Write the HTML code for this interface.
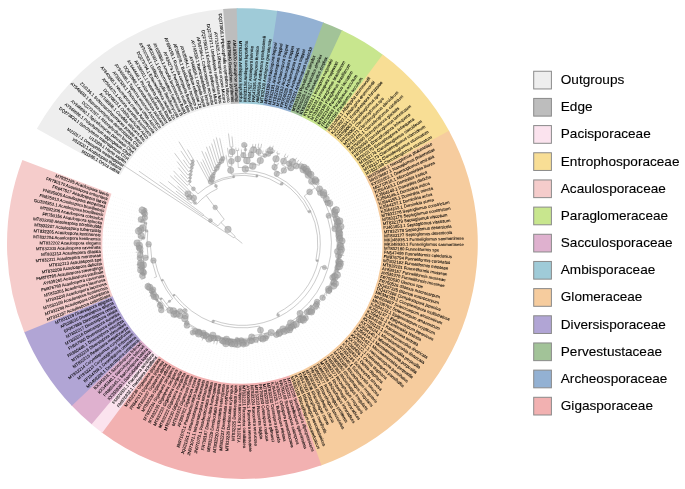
<!DOCTYPE html>
<html><head><meta charset="utf-8"><title>Phylogenetic tree</title>
<style>html,body{margin:0;padding:0;background:#fff}svg{display:block}</style></head>
<body>
<svg width="685" height="489" viewBox="0 0 685 489" font-family="'Liberation Sans', Arial, sans-serif">
<rect width="685" height="489" fill="#fff"/>
<path d="M36.86 128.85A235.4 235.4 0 0 1 224.16 8.91L231.55 103.92A140.1 140.1 0 0 0 120.07 175.31Z" fill="#eeeeee"/>
<path d="M223.14 8.99A235.4 235.4 0 0 1 237.71 8.25L239.61 103.53A140.1 140.1 0 0 0 230.94 103.97Z" fill="#bdbdbd"/>
<path d="M236.68 8.27A235.4 235.4 0 0 1 278.27 10.95L263.75 105.14A140.1 140.1 0 0 0 239 103.54Z" fill="#9fcbd8"/>
<path d="M277.25 10.79A235.4 235.4 0 0 1 324.15 22.85L291.05 112.22A140.1 140.1 0 0 0 263.14 105.04Z" fill="#93b1d3"/>
<path d="M323.18 22.5A235.4 235.4 0 0 1 342.9 30.73L302.21 116.91A140.1 140.1 0 0 0 290.48 112.01Z" fill="#a2c398"/>
<path d="M341.97 30.3A235.4 235.4 0 0 1 383.51 55.18L326.38 131.46A140.1 140.1 0 0 0 301.66 116.65Z" fill="#c8e68e"/>
<path d="M382.69 54.57A235.4 235.4 0 0 1 449.46 131.62L365.63 176.95A140.1 140.1 0 0 0 325.89 131.1Z" fill="#f8de95"/>
<path d="M448.97 130.72A235.4 235.4 0 0 1 320.39 465.7L288.82 375.79A140.1 140.1 0 0 0 365.34 176.42Z" fill="#f6cc9e"/>
<path d="M321.36 465.36A235.4 235.4 0 0 1 101.45 432.13L158.51 355.81A140.1 140.1 0 0 0 289.39 375.58Z" fill="#f2b1b1"/>
<path d="M102.27 432.75A235.4 235.4 0 0 1 90.82 423.7L152.19 350.79A140.1 140.1 0 0 0 159 356.17Z" fill="#fbe3ee"/>
<path d="M91.61 424.36A235.4 235.4 0 0 1 71.11 405.08L140.46 339.7A140.1 140.1 0 0 0 152.66 351.18Z" fill="#dfb1cf"/>
<path d="M71.82 405.82A235.4 235.4 0 0 1 23.91 331.21L112.36 295.74A140.1 140.1 0 0 0 140.88 340.15Z" fill="#b1a5d5"/>
<path d="M24.29 332.16A235.4 235.4 0 0 1 22.38 159.91L111.45 193.79A140.1 140.1 0 0 0 112.59 296.31Z" fill="#f5cccb"/>
<g font-size="4.25" fill="#000" stroke="#000" stroke-width=".07">
<text transform="translate(119.55 172.67) rotate(390)" text-anchor="end" dy="1.47">M11585.1 Oryza sativa</text>
<text transform="translate(121.65 169.17) rotate(391.65)" text-anchor="end" dy="1.47">X52320.1 Arabidopsis thaliana</text>
<text transform="translate(123.84 165.72) rotate(393.3)" text-anchor="end" dy="1.47">M21017.1 Drosophila melanogaster</text>
<text transform="translate(126.14 162.33) rotate(394.95)" text-anchor="end" dy="1.47">U13369.1 Homo sapien</text>
<text transform="translate(128.53 159.02) rotate(396.6)" text-anchor="end" dy="1.47">DQ273820.1 Synchytrium macrosporum Chyt</text>
<text transform="translate(131.01 155.77) rotate(398.25)" text-anchor="end" dy="1.47">AY546686.1 Polychytrium aggregatum Chytr</text>
<text transform="translate(133.59 152.6) rotate(399.91)" text-anchor="end" dy="1.47">AY546692.1 Spizellomyces punctatus Chyt</text>
<text transform="translate(136.25 149.5) rotate(401.56)" text-anchor="end" dy="1.47">DQ273787.1 Rhizophydium brooksian</text>
<text transform="translate(139.01 146.48) rotate(403.21)" text-anchor="end" dy="1.47">AY546693.1 Batrachochytrium dendrobatidis Chy</text>
<text transform="translate(141.85 143.54) rotate(404.86)" text-anchor="end" dy="1.47">Z19136.1 Schizosaccharomyces pombe Asco</text>
<text transform="translate(144.77 140.69) rotate(406.51)" text-anchor="end" dy="1.47">AY198398.1 Candida albicans Asc</text>
<text transform="translate(147.78 137.92) rotate(408.16)" text-anchor="end" dy="1.47">DQ470973.1 Orbilia auricolor Asco</text>
<text transform="translate(150.86 135.24) rotate(409.81)" text-anchor="end" dy="1.47">AY544670.1 Aleuria aurantia Ascomyco</text>
<text transform="translate(154.02 132.65) rotate(411.46)" text-anchor="end" dy="1.47">AY640965.1 Neurospora crassa Ascomycota</text>
<text transform="translate(157.26 130.15) rotate(413.11)" text-anchor="end" dy="1.47">AY552524.1 Trichoderma viride Ascom</text>
<text transform="translate(160.56 127.74) rotate(414.76)" text-anchor="end" dy="1.47">AY546695.1 Taphrina wiesneri Ascomyco</text>
<text transform="translate(163.93 125.43) rotate(416.42)" text-anchor="end" dy="1.47">DQ470949.1 Aureobasidium pullulans</text>
<text transform="translate(167.37 123.22) rotate(418.07)" text-anchor="end" dy="1.47">AY544648.1 Peziza vesiculosa Ascomy</text>
<text transform="translate(170.87 121.11) rotate(419.72)" text-anchor="end" dy="1.47">AF396011.1 Puccinia graminis Basidi</text>
<text transform="translate(174.43 119.1) rotate(421.37)" text-anchor="end" dy="1.47">DQ273794.1 Entomophthora muscae Zo</text>
<text transform="translate(178.04 117.19) rotate(423.02)" text-anchor="end" dy="1.47">AY700093.1 Ustilago maydis Basidiomycota</text>
<text transform="translate(181.71 115.39) rotate(424.67)" text-anchor="end" dy="1.47">AY631901.1 Endocronartium harknessii B</text>
<text transform="translate(185.43 113.69) rotate(426.32)" text-anchor="end" dy="1.47">AY639880.1 Amanita brunnescens Basid</text>
<text transform="translate(189.2 112.11) rotate(427.97)" text-anchor="end" dy="1.47">AY634279.1 Peniophora nuda Bas</text>
<text transform="translate(193.01 110.63) rotate(429.62)" text-anchor="end" dy="1.47">AY684155.1 Russula compacta Basidiom</text>
<text transform="translate(196.86 109.26) rotate(431.27)" text-anchor="end" dy="1.47">AF286878.1 Basidiobolus ranarum Z</text>
<text transform="translate(200.75 108) rotate(432.92)" text-anchor="end" dy="1.47">AY635854.1 Smittium culisetae Zo</text>
<text transform="translate(204.67 106.86) rotate(434.58)" text-anchor="end" dy="1.47">AY546694.1 Orphella haysii</text>
<text transform="translate(208.63 105.83) rotate(436.23)" text-anchor="end" dy="1.47">AY745339.1 Ramicandelaber brevis</text>
<text transform="translate(212.61 104.91) rotate(437.88)" text-anchor="end" dy="1.47">AF587864.1 Cokeromyces recurvatu</text>
<text transform="translate(216.62 104.11) rotate(439.53)" text-anchor="end" dy="1.47">DQ273811.1 Endogone pisiformis Muco</text>
<text transform="translate(220.65 103.43) rotate(441.18)" text-anchor="end" dy="1.47">DQ273797.1 Umbelopsis ramanniana Muc</text>
<text transform="translate(224.7 102.86) rotate(442.83)" text-anchor="end" dy="1.47">AY713626.1 Rhizopus oryzae Mucoro</text>
<text transform="translate(228.76 102.41) rotate(444.48)" text-anchor="end" dy="1.47">DQ273806.1 Piptocephalis corymbifera Mucoro</text>
<text transform="translate(232.83 102.07) rotate(446.13)" text-anchor="end" dy="1.47">FM876840 Geosiphon pyriformis</text>
<text transform="translate(236.91 101.86) rotate(447.78)" text-anchor="end" dy="1.47">AM183920 Geosiphon pyriformis</text>
<text transform="translate(241 101.76) rotate(449.43)" text-anchor="end" dy="1.47">MT832108 Ambispora leptoticha</text>
<text transform="translate(245.09 101.78) rotate(271.08)" dy="1.47">MT832106 Ambispora leptoticha</text>
<text transform="translate(249.17 101.91) rotate(272.74)" dy="1.47">FN547527 Ambispora fennica</text>
<text transform="translate(253.25 102.17) rotate(274.39)" dy="1.47">FN547535 Ambispora fennica</text>
<text transform="translate(257.32 102.54) rotate(276.04)" dy="1.47">AM268196 Ambispora gerdemannii</text>
<text transform="translate(261.38 103.03) rotate(277.69)" dy="1.47">MT832109 Ambispora granatensis</text>
<text transform="translate(265.42 103.63) rotate(279.34)" dy="1.47">MT832190 Archaeospora trappei</text>
<text transform="translate(269.44 104.35) rotate(280.99)" dy="1.47">MT832191 Archaeospora trappei</text>
<text transform="translate(273.44 105.19) rotate(282.64)" dy="1.47">MT832192 Archaeospora trappei</text>
<text transform="translate(277.42 106.14) rotate(284.29)" dy="1.47">MT832193 Archaeospora trappei</text>
<text transform="translate(281.36 107.21) rotate(285.94)" dy="1.47">FR750035 Archaeospora trappei</text>
<text transform="translate(285.28 108.39) rotate(287.59)" dy="1.47">MT832189 Archaeospora trappei</text>
<text transform="translate(289.16 109.68) rotate(289.25)" dy="1.47">FR750021 Archaeospora schenckii</text>
<text transform="translate(292.99 111.08) rotate(290.9)" dy="1.47">MT832194 Pervetustus simplex</text>
<text transform="translate(296.79 112.59) rotate(292.55)" dy="1.47">KY630229.1 Pervetustus simplex</text>
<text transform="translate(300.54 114.21) rotate(294.2)" dy="1.47">KY630228.1 Pervetustus simplex</text>
<text transform="translate(304.25 115.94) rotate(295.85)" dy="1.47">KY630231.1 Innospora majewskii</text>
<text transform="translate(307.9 117.78) rotate(297.5)" dy="1.47">KY630232.1 Innospora majewskii</text>
<text transform="translate(311.5 119.72) rotate(299.15)" dy="1.47">MT832198 Paraglomus brasilianum</text>
<text transform="translate(315.04 121.76) rotate(300.8)" dy="1.47">MT832196 Paraglomus brasilianum</text>
<text transform="translate(318.52 123.9) rotate(302.45)" dy="1.47">MT832197 Paraglomus laccatum</text>
<text transform="translate(321.93 126.14) rotate(304.1)" dy="1.47">FR750083 Paraglomus occultum</text>
<text transform="translate(325.29 128.49) rotate(305.75)" dy="1.47">MT832195 Paraglomus occultum</text>
<text transform="translate(328.57 130.92) rotate(307.41)" dy="1.47">KJ210826.1 Albahypha drummondii</text>
<text transform="translate(331.78 133.45) rotate(309.06)" dy="1.47">KJ210827.1 Albahypha drummondii</text>
<text transform="translate(334.91 136.07) rotate(310.71)" dy="1.47">KJ210824.1 Entrophospora furrazolae</text>
<text transform="translate(337.97 138.78) rotate(312.36)" dy="1.47">FR750063 Claroideoglomus spe</text>
<text transform="translate(340.95 141.58) rotate(314.01)" dy="1.47">FR750062 Claroideoglomus spe</text>
<text transform="translate(343.85 144.46) rotate(315.66)" dy="1.47">MT832171 Claroideoglomus claroideum</text>
<text transform="translate(346.67 147.42) rotate(317.31)" dy="1.47">KP191475.1 Claroideoglomus candidum</text>
<text transform="translate(349.39 150.47) rotate(318.96)" dy="1.47">FR750060 Entrophospora glacialis</text>
<text transform="translate(352.03 153.59) rotate(320.61)" dy="1.47">FR750059 Claroideoglomus lamellosum</text>
<text transform="translate(354.58 156.78) rotate(322.26)" dy="1.47">FR750058 Entrophospora infrequens</text>
<text transform="translate(357.04 160.05) rotate(323.92)" dy="1.47">MT832170 Entrophospora infrequens</text>
<text transform="translate(359.39 163.39) rotate(325.57)" dy="1.47">MT832174 Claroideoglomus claroideum</text>
<text transform="translate(361.66 166.79) rotate(327.22)" dy="1.47">MT832173 Claroideoglomus claroideum</text>
<text transform="translate(363.82 170.26) rotate(328.87)" dy="1.47">MT832172 Claroideoglomus etunicatum</text>
<text transform="translate(365.88 173.79) rotate(330.52)" dy="1.47">MT832169 Claroideoglomus etunicatum</text>
<text transform="translate(367.84 177.38) rotate(332.17)" dy="1.47">MH378688.1 Nanoglomus plukenetiae</text>
<text transform="translate(369.7 181.02) rotate(333.82)" dy="1.47">MH378687.1 Nanoglomus plukenetiae</text>
<text transform="translate(371.45 184.71) rotate(335.47)" dy="1.47">KY555052.1 Orientoglomus emiratia</text>
<text transform="translate(373.09 188.45) rotate(337.12)" dy="1.47">MG710518.1 Microdominikia litorea</text>
<text transform="translate(374.63 192.24) rotate(338.77)" dy="1.47">KJ564163.1 Dominikia iranica</text>
<text transform="translate(376.05 196.07) rotate(340.42)" dy="1.47">KJ564148.1 Dominikia disticha</text>
<text transform="translate(377.36 199.94) rotate(342.08)" dy="1.47">KJ564146.1 Dominikia indica</text>
<text transform="translate(378.57 203.85) rotate(343.73)" dy="1.47">KJ564155.1 Dominikia minuta</text>
<text transform="translate(379.66 207.79) rotate(345.38)" dy="1.47">KJ564157.1 Dominikia achra</text>
<text transform="translate(380.63 211.76) rotate(347.03)" dy="1.47">KJ564153.1 Dominikia aurea</text>
<text transform="translate(381.49 215.75) rotate(348.68)" dy="1.47">MT832176 Septoglomus constrictum</text>
<text transform="translate(382.23 219.77) rotate(350.33)" dy="1.47">MT832175 Septoglomus constrictum</text>
<text transform="translate(382.86 223.81) rotate(351.98)" dy="1.47">MT832179 Septoglomus viscosum</text>
<text transform="translate(383.37 227.87) rotate(353.63)" dy="1.47">FJ461853.1 Septoglomus viscosum</text>
<text transform="translate(383.77 231.94) rotate(355.28)" dy="1.47">MT832178 Septoglomus deserticola</text>
<text transform="translate(384.05 236.01) rotate(356.93)" dy="1.47">MT832177 Septoglomus deserticola</text>
<text transform="translate(384.21 240.1) rotate(358.58)" dy="1.47">MK348935.1 Funneliglomus sanmartinese</text>
<text transform="translate(384.25 244.18) rotate(0.24)" dy="1.47">MK348930.1 Funneliglomus sanmartinese</text>
<text transform="translate(384.17 248.27) rotate(1.89)" dy="1.47">MT832180 Funneliformis spe</text>
<text transform="translate(383.98 252.35) rotate(3.54)" dy="1.47">FN547499 Funneliformis caledonius</text>
<text transform="translate(383.67 256.43) rotate(5.19)" dy="1.47">FM876794 Funneliformis coronatus</text>
<text transform="translate(383.24 260.49) rotate(6.84)" dy="1.47">MT832182 Funneliformis mosseae</text>
<text transform="translate(382.7 264.54) rotate(8.49)" dy="1.47">MT832181 Funneliformis mosseae</text>
<text transform="translate(382.03 268.58) rotate(10.14)" dy="1.47">AY639157 Funneliformis mosseae</text>
<text transform="translate(381.26 272.59) rotate(11.79)" dy="1.47">AY639270 Funneliformis mosseae</text>
<text transform="translate(380.36 276.58) rotate(13.44)" dy="1.47">FR750530 Glomus spe</text>
<text transform="translate(379.36 280.54) rotate(15.09)" dy="1.47">FR750526 Glomus macrocarpum</text>
<text transform="translate(378.23 284.47) rotate(16.75)" dy="1.47">DQ437325 Glomus macrocarpum</text>
<text transform="translate(377 288.37) rotate(18.4)" dy="1.47">DQ437298 Complexispora japonica</text>
<text transform="translate(375.66 292.23) rotate(20.05)" dy="1.47">MK036783.1 Complexispora multistratosa</text>
<text transform="translate(374.2 296.04) rotate(21.7)" dy="1.47">MH560607 Sclerocarpum amazonicum</text>
<text transform="translate(372.63 299.82) rotate(23.35)" dy="1.47">MK036782 Sclerocarpum amazonicum</text>
<text transform="translate(370.96 303.55) rotate(25)" dy="1.47">KJ564133.1 Epigeocarpum crypticum</text>
<text transform="translate(369.18 307.23) rotate(26.65)" dy="1.47">KJ564137.1 Epigeocarpum japonicum</text>
<text transform="translate(367.29 310.85) rotate(28.3)" dy="1.47">KJ564131.1 Kamienskia bistrata</text>
<text transform="translate(365.3 314.42) rotate(29.95)" dy="1.47">KJ564145.1 Kamienskia bistrata</text>
<text transform="translate(363.21 317.94) rotate(31.6)" dy="1.47">KX758123.1 Microkamienskia divaricata</text>
<text transform="translate(361.02 321.39) rotate(33.25)" dy="1.47">KX758124.1 Microkamienskia divaricata</text>
<text transform="translate(358.73 324.77) rotate(34.91)" dy="1.47">KJ564140.1 Microkamienskia perpusilla</text>
<text transform="translate(356.34 328.09) rotate(36.56)" dy="1.47">KJ564141.1 Microkamienskia perpusilla</text>
<text transform="translate(353.86 331.34) rotate(38.21)" dy="1.47">KJ564142.1 Microkamienskia perpusilla</text>
<text transform="translate(351.29 334.51) rotate(39.86)" dy="1.47">KX758121.1 Halonatospora pansihalos</text>
<text transform="translate(348.62 337.61) rotate(41.51)" dy="1.47">KX758122.1 Halonatospora pansihalos</text>
<text transform="translate(345.87 340.63) rotate(43.16)" dy="1.47">KY362436.1 Oehlia diaphana</text>
<text transform="translate(343.03 343.57) rotate(44.81)" dy="1.47">KY362437.1 Oehlia diaphana</text>
<text transform="translate(340.11 346.43) rotate(46.46)" dy="1.47">MT832185 Sclerocystis sinuosa</text>
<text transform="translate(337.11 349.2) rotate(48.11)" dy="1.47">FJ461846.1 Sclerocystis sinuosa</text>
<text transform="translate(334.03 351.89) rotate(49.76)" dy="1.47">MT832186 Rhizophagus irregularis</text>
<text transform="translate(330.87 354.48) rotate(51.42)" dy="1.47">FM865550 Rhizophagus irregularis</text>
<text transform="translate(327.64 356.98) rotate(53.07)" dy="1.47">FM992388 Rhizophagus irregularis</text>
<text transform="translate(324.33 359.39) rotate(54.72)" dy="1.47">FM992377 Rhizophagus irregularis</text>
<text transform="translate(320.96 361.71) rotate(56.37)" dy="1.47">MT832187 Rhizophagus intraradices</text>
<text transform="translate(317.53 363.92) rotate(58.02)" dy="1.47">FM865559 Rhizophagus intraradices</text>
<text transform="translate(314.03 366.03) rotate(59.67)" dy="1.47">FM865577 Rhizophagus proliferus</text>
<text transform="translate(310.47 368.05) rotate(61.32)" dy="1.47">FR750071 Rhizophagus fasciculatus</text>
<text transform="translate(306.86 369.96) rotate(62.97)" dy="1.47">MT832188 Rhizophagus clarus</text>
<text transform="translate(303.19 371.76) rotate(64.62)" dy="1.47">FM865536 Rhizophagus clarus</text>
<text transform="translate(299.48 373.46) rotate(66.27)" dy="1.47">FN547500 Rhizophagus manihotis</text>
<text transform="translate(295.71 375.05) rotate(67.92)" dy="1.47">KY362438 Rhizophagus neocaledonicus</text>
<text transform="translate(291.9 376.53) rotate(69.58)" dy="1.47">MT832168 Rhizophagus neocaledonicus</text>
<text transform="translate(288.05 377.9) rotate(71.23)" dy="1.47">MT832228 Scutellospora dipurpurescens</text>
<text transform="translate(284.16 379.16) rotate(72.88)" dy="1.47">MT832231 Scutellospora spinosissima</text>
<text transform="translate(280.24 380.31) rotate(74.53)" dy="1.47">FR750149 Scutellospora calospora</text>
<text transform="translate(276.29 381.34) rotate(76.18)" dy="1.47">JF439211 Orbispora pernambucana</text>
<text transform="translate(272.3 382.26) rotate(77.83)" dy="1.47">KJ944325.1 Bulbospora minima</text>
<text transform="translate(268.3 383.07) rotate(79.48)" dy="1.47">MT832232 Cetraspora pellucida</text>
<text transform="translate(264.27 383.75) rotate(81.13)" dy="1.47">MT832233 Cetraspora gilmorei</text>
<text transform="translate(260.22 384.33) rotate(82.78)" dy="1.47">FR750160 Cetraspora nodosa</text>
<text transform="translate(256.16 384.78) rotate(84.43)" dy="1.47">MT832223 Racocetra fulgida</text>
<text transform="translate(252.09 385.12) rotate(86.08)" dy="1.47">MT832224 Racocetra verrucosa</text>
<text transform="translate(248 385.34) rotate(87.74)" dy="1.47">AY900495.1 Racocetra weresubiae</text>
<text transform="translate(243.92 385.44) rotate(89.39)" dy="1.47">MT832221 Racocetra coralloidea</text>
<text transform="translate(239.83 385.43) rotate(271.04)" text-anchor="end" dy="1.47">Y12076.1 Racocetra castanea</text>
<text transform="translate(235.75 385.29) rotate(272.69)" text-anchor="end" dy="1.47">MT832225 Dentiscutata nigra</text>
<text transform="translate(231.67 385.04) rotate(274.34)" text-anchor="end" dy="1.47">MT832226 Dentiscutata erythropus</text>
<text transform="translate(227.6 384.68) rotate(275.99)" text-anchor="end" dy="1.47">MT832227 Dentiscutata erythropus</text>
<text transform="translate(223.54 384.19) rotate(277.64)" text-anchor="end" dy="1.47">MT832220 Dentiscutata heterogama</text>
<text transform="translate(219.49 383.59) rotate(279.29)" text-anchor="end" dy="1.47">MT832229 Dentiscutata heterogama</text>
<text transform="translate(215.47 382.87) rotate(280.94)" text-anchor="end" dy="1.47">FR750187 Dentiscutata heterogama</text>
<text transform="translate(211.47 382.04) rotate(282.59)" text-anchor="end" dy="1.47">JN971072.1 Paradentiscutata maritima</text>
<text transform="translate(207.49 381.09) rotate(284.25)" text-anchor="end" dy="1.47">JN971071.1 Intraornatospora intraornata</text>
<text transform="translate(203.55 380.03) rotate(285.9)" text-anchor="end" dy="1.47">JQ231291.1 Intraornatospora intraornata</text>
<text transform="translate(199.63 378.85) rotate(287.55)" text-anchor="end" dy="1.47">JN971070.1 Paradentiscutata bahiana</text>
<text transform="translate(195.75 377.56) rotate(289.2)" text-anchor="end" dy="1.47">AF396782 Gigaspora rosea</text>
<text transform="translate(191.91 376.16) rotate(290.85)" text-anchor="end" dy="1.47">MT832232 Gigaspora rosea</text>
<text transform="translate(188.12 374.65) rotate(292.5)" text-anchor="end" dy="1.47">MT832230 Gigaspora margarita</text>
<text transform="translate(184.36 373.03) rotate(294.15)" text-anchor="end" dy="1.47">MT832222 Gigaspora margarita</text>
<text transform="translate(180.66 371.31) rotate(295.8)" text-anchor="end" dy="1.47">MT832233 Gigaspora margarita</text>
<text transform="translate(177 369.48) rotate(297.45)" text-anchor="end" dy="1.47">MT832235 Gigaspora decipiens</text>
<text transform="translate(173.41 367.54) rotate(299.1)" text-anchor="end" dy="1.47">MT832234 Gigaspora decipiens</text>
<text transform="translate(169.86 365.5) rotate(300.75)" text-anchor="end" dy="1.47">MT832236 Gigaspora albida</text>
<text transform="translate(166.38 363.36) rotate(302.41)" text-anchor="end" dy="1.47">MT832237 Gigaspora albida</text>
<text transform="translate(162.96 361.12) rotate(304.06)" text-anchor="end" dy="1.47">FR847513 Gigaspora gigantea</text>
<text transform="translate(159.61 358.78) rotate(305.71)" text-anchor="end" dy="1.47">MT832238 Gigaspora gigantea</text>
<text transform="translate(156.33 356.35) rotate(307.36)" text-anchor="end" dy="1.47">FM876832.1 Pacispora scintillans</text>
<text transform="translate(153.11 353.82) rotate(309.01)" text-anchor="end" dy="1.47">FM876831.1 Pacispora scintillans</text>
<text transform="translate(149.97 351.21) rotate(310.66)" text-anchor="end" dy="1.47">KX355820.1 Sacculospora baltica</text>
<text transform="translate(146.91 348.5) rotate(312.31)" text-anchor="end" dy="1.47">FR865445.1 Sacculospora baltica</text>
<text transform="translate(143.93 345.7) rotate(313.96)" text-anchor="end" dy="1.47">KX345940.1 Sacculospora felinovii</text>
<text transform="translate(141.03 342.82) rotate(315.61)" text-anchor="end" dy="1.47">KX345938.1 Sacculospora felinovii</text>
<text transform="translate(138.21 339.86) rotate(317.26)" text-anchor="end" dy="1.47">MG459208.1 Desertispora omaniana</text>
<text transform="translate(135.48 336.82) rotate(318.92)" text-anchor="end" dy="1.47">KF154769.1 Desertispora omaniana</text>
<text transform="translate(132.84 333.7) rotate(320.57)" text-anchor="end" dy="1.47">MT832213 Corymbiglomus tortuosum</text>
<text transform="translate(130.29 330.51) rotate(322.22)" text-anchor="end" dy="1.47">MT832214 Corymbiglomus corymbiforme</text>
<text transform="translate(127.83 327.24) rotate(323.87)" text-anchor="end" dy="1.47">MT832215 Redeckera megalocarpa</text>
<text transform="translate(125.47 323.91) rotate(325.52)" text-anchor="end" dy="1.47">MT832218 Diversispora trimurales</text>
<text transform="translate(123.21 320.5) rotate(327.17)" text-anchor="end" dy="1.47">FR865448.1 Diversispora insculpta</text>
<text transform="translate(121.04 317.04) rotate(328.82)" text-anchor="end" dy="1.47">FN547665 Diversispora eburnea</text>
<text transform="translate(118.97 313.51) rotate(330.47)" text-anchor="end" dy="1.47">MT832216 Diversispora aurantia</text>
<text transform="translate(117.01 309.93) rotate(332.12)" text-anchor="end" dy="1.47">MT832217 Diversispora celata</text>
<text transform="translate(115.15 306.29) rotate(333.77)" text-anchor="end" dy="1.47">EF067888 Diversispora celata</text>
<text transform="translate(113.4 302.59) rotate(335.42)" text-anchor="end" dy="1.47">AF639235 Diversispora spurca</text>
<text transform="translate(111.75 298.85) rotate(337.08)" text-anchor="end" dy="1.47">MT832219 Diversispora epigaea</text>
<text transform="translate(110.22 295.07) rotate(338.73)" text-anchor="end" dy="1.47">MT832197 Acaulospora colombiana</text>
<text transform="translate(108.79 291.24) rotate(340.38)" text-anchor="end" dy="1.47">MT832198 Acaulospora colombiana</text>
<text transform="translate(107.47 287.37) rotate(342.03)" text-anchor="end" dy="1.47">MT832199 Acaulospora kentinensis</text>
<text transform="translate(106.27 283.46) rotate(343.68)" text-anchor="end" dy="1.47">MT832200 Acaulospora lacunosa</text>
<text transform="translate(105.17 279.52) rotate(345.33)" text-anchor="end" dy="1.47">MT832201 Acaulospora lacunosa</text>
<text transform="translate(104.2 275.55) rotate(346.98)" text-anchor="end" dy="1.47">FM876793 Acaulospora cavernata</text>
<text transform="translate(103.33 271.56) rotate(348.63)" text-anchor="end" dy="1.47">AY639265 Acaulospora paulinae</text>
<text transform="translate(102.59 267.54) rotate(350.28)" text-anchor="end" dy="1.47">FM876785 Acaulospora sieverdingii</text>
<text transform="translate(101.95 263.5) rotate(351.93)" text-anchor="end" dy="1.47">MT832209 Acaulospora delicata</text>
<text transform="translate(101.44 259.45) rotate(353.58)" text-anchor="end" dy="1.47">MT832213 Acaulospora spe</text>
<text transform="translate(101.04 255.38) rotate(355.24)" text-anchor="end" dy="1.47">MT832211 Acaulospora morrowiae</text>
<text transform="translate(100.76 251.3) rotate(356.89)" text-anchor="end" dy="1.47">MT832212 Acaulospora dilatata</text>
<text transform="translate(100.6 247.22) rotate(358.54)" text-anchor="end" dy="1.47">MT832203 Acaulospora cavernata</text>
<text transform="translate(100.55 243.13) rotate(360.19)" text-anchor="end" dy="1.47">MT832202 Acaulospora elegans</text>
<text transform="translate(100.62 239.05) rotate(361.84)" text-anchor="end" dy="1.47">MT832204 Acaulospora kentinensis</text>
<text transform="translate(100.81 234.96) rotate(363.49)" text-anchor="end" dy="1.47">MT832205 Acaulospora kentinensis</text>
<text transform="translate(101.12 230.89) rotate(365.14)" text-anchor="end" dy="1.47">MT832207 Acaulospora tuberculata</text>
<text transform="translate(101.55 226.82) rotate(366.79)" text-anchor="end" dy="1.47">MT832208 Acaulospora scrobiculata</text>
<text transform="translate(102.09 222.77) rotate(368.44)" text-anchor="end" dy="1.47">FR750156 Acaulospora spinosa</text>
<text transform="translate(102.75 218.74) rotate(370.09)" text-anchor="end" dy="1.47">MT832206 Acaulospora colossica</text>
<text transform="translate(103.52 214.72) rotate(371.75)" text-anchor="end" dy="1.47">GU326352.1 Acaulospora brasiliensis</text>
<text transform="translate(104.41 210.74) rotate(373.4)" text-anchor="end" dy="1.47">FN825913 Acaulospora brasiliensis</text>
<text transform="translate(105.41 206.77) rotate(375.05)" text-anchor="end" dy="1.47">FN825900 Acaulospora entreriana</text>
<text transform="translate(106.53 202.84) rotate(376.7)" text-anchor="end" dy="1.47">FR847517 Acaulospora laevis</text>
<text transform="translate(107.76 198.94) rotate(378.35)" text-anchor="end" dy="1.47">FR750170 Acaulospora entreriana</text>
<text transform="translate(109.1 195.08) rotate(380)" text-anchor="end" dy="1.47">MT832195 Acaulospora laevis</text>
</g>
<path d="M138.62 170.93L127.98 163.62M159.21 181.69L130.33 160.36M175.58 190.79L132.78 157.17M167.79 181.09L135.31 154.04M177.08 185.58L137.94 150.99M169.84 175.34L140.65 148.02M173.75 175.19L143.44 145.13M173.15 170.51L146.32 142.32M180.04 173.87L149.28 139.6M178.02 167.31L152.32 136.96M176.78 161.15L155.43 134.41M174.35 152.85L158.61 131.94M183.02 159.48L161.86 129.58M180.62 150.51L165.18 127.3M178.64 141.26L168.56 125.13M187.24 149.1L172 123.05M196.55 159.6L175.51 121.07M200.54 161.38L179.06 119.19M202.34 158.98L182.67 117.42M201.59 150.56L186.33 115.75M205.22 151.75L190.04 114.19M206.25 146.35L193.79 112.74M209.2 145.76L197.58 111.39M211.48 143.05L201.41 110.15M213.45 138.85L205.27 109.03M216.2 136.92L209.16 108.01M219.61 137.76L213.08 107.11M225.92 154.8L217.03 106.33M227.4 147.41L220.99 105.65M228.42 133.06L224.98 105.09M231.92 136.01L228.97 104.65M235.79 147.12L232.98 104.32M238.6 147.9L237 104.1M241.37 148.92L241.02 104.01M244.2 143.18L245.04 104.03M247.06 143.87L249.06 104.16M249.52 149.3L253.08 104.41M252.85 143.67L257.08 104.77M255.78 143.55L261.08 105.26M258.81 143.02L265.06 105.85M261.72 143.41L269.01 106.56M263.21 150.16L272.95 107.38M266.42 148.73L276.86 108.32M270.31 145.36L280.75 109.37M273.42 145.27L284.6 110.53M275.1 149.46L288.41 111.8M277.59 150.96L292.19 113.18M279.85 152.97L295.93 114.67M278.64 162.53L299.62 116.27M285.99 153.22L303.27 117.97M288.29 155.06L306.86 119.77M288.5 160.57L310.4 121.68M293.37 157.73L313.89 123.69M296.95 157.45L317.31 125.8M299.08 159.55L320.67 128.01M301.51 161.17L323.97 130.31M302.32 164.92L327.2 132.71M305.21 165.87L330.36 135.2M307.89 167.17L333.45 137.78M308.57 170.72L336.46 140.44M311.93 171.32L339.39 143.2M313.52 173.8L342.24 146.03M315.39 175.99L345.01 148.95M315.82 179.4L347.7 151.94M320.36 179.31L350.29 155.02M319.95 183.31L352.8 158.16M319.94 186.82L355.22 161.38M323.13 187.98L357.54 164.66M325.09 190.08L359.77 168.01M326.22 192.71L361.89 171.43M329.66 194.01L363.92 174.9M327.6 198.37L365.85 178.43M331.9 199.35L367.68 182.01M331.19 202.84L369.4 185.65M331.92 205.59L371.02 189.33M337.2 206.54L372.53 193.06M338.24 209.28L373.93 196.83M339.38 212L375.22 200.64M337.12 215.72L376.41 204.48M340.39 217.81L377.48 208.36M341.61 220.52L378.44 212.26M340.56 223.73L379.28 216.2M342.99 226.24L380.02 220.15M339.88 229.65L380.64 224.13M343.48 232.11L381.14 228.12M343.08 235.08L381.53 232.12M341.02 238.11L381.8 236.13M344.83 240.87L381.96 240.15M344.23 243.82L382 244.17M341.82 246.68L381.92 248.2M344.37 249.71L381.73 252.21M342.13 252.47L381.43 256.22M344.3 255.63L381.01 260.23M341.04 258.14L380.47 264.21M344.77 261.73L379.82 268.18M342.3 264.28L379.05 272.13M341.11 267.02L378.17 276.05M339.29 269.56L377.18 279.95M340.27 272.88L376.08 283.82M339.24 275.64L374.87 287.66M336.87 277.91L373.54 291.45M338.84 281.82L372.11 295.21M337.98 284.7L370.57 298.93M335.78 286.99L368.92 302.6M334.61 289.73L367.17 306.22M332.52 291.98L365.31 309.79M330.63 294.3L363.35 313.3M327.63 295.9L361.3 316.76M325.77 298.14L359.14 320.15M323.46 300.03L356.89 323.48M320.91 301.69L354.54 326.75M320.39 304.87L352.09 329.94M320.34 308.56L349.56 333.07M317.48 309.94L346.94 336.12M314.77 311.36L344.23 339.09M312.2 312.84L341.44 341.99M309.53 314.16L338.56 344.8M308.68 317.41L335.61 347.53M307.23 320.13L332.57 350.17M304.72 321.64L329.46 352.72M303.26 324.49L326.28 355.19M299.56 324.33L323.04 357.56M296.55 324.96L319.72 359.83M296.17 329.67L316.34 362.01M293.27 330.52L312.9 364.09M290.54 331.59L309.39 366.07M287.52 332.04L305.84 367.95M284.53 332.43L302.23 369.73M282.53 334.94L298.57 371.4M279.34 334.73L294.87 372.97M277.05 336.72L291.12 374.42M273.87 336.26L287.33 375.77M270.57 335.18L283.5 377.01M268.43 337.82L279.64 378.14M266.13 340.27L275.75 379.16M263.31 340.82L271.83 380.06M260.71 342.53L267.89 380.85M257.95 343.68L263.92 381.53M254.87 342.64L259.94 382.09M251.9 341.87L255.94 382.54M249.29 345.59L251.93 382.87M246.35 345.73L247.92 383.09M243.41 346.75L243.89 383.19M240.42 347.4L239.87 383.18M237.46 346.57L235.85 383.05M234.53 345.76L231.84 382.8M231.53 346.05L227.83 382.44M228.57 345.74L223.84 381.96M225.51 345.99L219.86 381.37M223.06 342.9L215.9 380.66M219.94 343.5L211.96 379.84M216.52 344.96L208.05 378.91M213.58 344.23L204.16 377.86M211.47 340.9L200.31 376.7M208.38 340.81L196.49 375.44M205.34 340.44L192.72 374.06M201.9 340.93L188.98 372.57M200.25 337.18L185.28 370.98M198.19 334.63L181.64 369.28M195.17 334.13L178.04 367.48M191.4 334.84L174.5 365.57M191.24 329.21L171.01 363.57M188.25 328.55L167.59 361.46M185.62 327.25L164.22 359.26M184.51 323.8L160.92 356.96M184.34 319.32L157.69 354.56M181.72 318.18L154.53 352.08M178.91 317.2L151.44 349.5M174.44 317.95L148.43 346.83M172.72 315.55L145.49 344.08M172.73 311.5L142.64 341.25M168.6 311.49L139.87 338.34M164.98 310.81L137.18 335.34M159.23 311.71L134.58 332.27M158.51 308.35L132.07 329.13M157.37 305.41L129.65 325.91M156.27 302.49L127.33 322.63M154.83 299.83L125.1 319.28M152.96 297.46L122.96 315.87M149.08 296.2L120.93 312.4M148.8 292.86L119 308.87M148.24 289.74L117.17 305.29M146.55 287.19L115.45 301.66M145.14 284.49L113.83 297.98M153.75 277.88L112.31 294.25M140.69 279.63L110.91 290.48M141.06 276.24L109.61 286.67M140.65 273.17L108.43 282.83M138.7 270.52L107.35 278.95M136.88 267.78L106.39 275.05M136.1 264.75L105.54 271.12M138.19 261.23L104.8 267.16M137.74 258.22L104.18 263.19M139.11 255L103.67 259.2M135.27 252.32L103.28 255.19M136.75 249.14L103.01 251.18M137.41 246.08L102.85 247.16M134.65 243.05L102.8 243.14M137.68 240.04L102.87 239.12M137.35 237L103.06 235.1M137.63 233.98L103.36 231.09M137.37 230.9L103.78 227.09M136.78 227.74L104.31 223.1M140.04 225.2L104.96 219.13M137.6 221.63L105.72 215.18M139.15 218.83L106.6 211.26M141.38 216.27L107.59 207.36M141.16 213.06L108.69 203.49M139.86 209.43L109.9 199.65M140.82 206.46L111.22 195.85" fill="none" stroke="#e6e6e6" stroke-width=".45" stroke-dasharray=".6 1.8"/>
<path d="M242.3 243.4L234.51 237.13M233.94 237.91L124.04 165.71M235.15 236.4L220.86 222.41M217.96 225.86L202.95 215.04M202.55 215.61L139.03 171.21M203.37 214.48L159.61 181.98M224.25 219.44L206.2 195.48M196.76 204.33L193.15 201.23M191.45 203.3L175.97 191.1M194.94 199.23L192.37 196.84M190.89 198.48L187.9 195.87M186.89 197.06L168.18 181.41M188.94 194.71L186.95 192.89M186.23 193.7L177.46 185.92M187.69 192.1L170.2 175.68M193.91 195.25L174.1 175.54M217.31 188.85L214.61 182.94M197.94 193.86L188.93 183.8M187.24 185.36L173.5 170.87M190.66 182.3L189.09 180.44M187.32 181.99L180.38 174.24M190.92 178.95L189.4 177.05M187.54 178.58L178.34 167.69M191.3 175.58L189.85 173.63M187.92 175.13L177.1 161.54M191.81 172.2L190.41 170.22M188.45 171.64L174.65 153.25M192.4 168.84L191.05 166.82M189.14 168.14L183.31 159.89M193 165.56L191.7 163.5M189.99 164.62L180.9 150.93M193.44 162.43L192.18 160.35M190.99 161.08L178.91 141.69M193.39 159.64L187.49 149.54M233.77 177.45L233.57 175.96M211.45 182.8L210.31 180.57M208.52 181.52L196.79 160.04M212.13 179.68L211.3 177.92M209.43 178.84L200.77 161.82M213.2 177.06L212.42 175.28M210.47 176.16L202.55 159.43M214.38 174.45L213.65 172.65M211.64 173.49L201.79 151.02M215.69 171.86L215.01 170.03M212.94 170.84L205.41 152.22M217.1 169.29L216.48 167.45M214.37 168.2L206.43 146.82M218.61 166.76L218.03 164.9M215.92 165.58L209.36 146.24M220.16 164.27L219.64 162.4M217.6 163L211.62 143.53M221.69 161.85L221.21 159.97M219.41 160.44L213.59 139.33M223.02 159.53L222.58 157.64M221.35 157.93L216.32 137.41M223.82 157.36L219.71 138.25M256.71 176.94L257.14 174.99M231.32 174.27L230.06 166.37M228.12 166.7L226.01 155.29M232.01 166.08L230.75 156.67M228.88 156.93L227.48 147.9M232.63 156.44L231.58 146.99M230.19 147.16L228.48 133.55M232.97 146.85L231.97 136.51M280.93 185.03L282.59 182.53M245.28 170.46L245.4 167.46M238.27 167.51L237.36 150.53M236.03 150.61L235.82 147.62M238.7 150.47L238.62 148.4M252.5 168.09L253.04 164.12M246.69 163.52L247.02 157.54M243.31 157.42L243.36 152.94M241.41 152.94L241.37 149.41M245.32 152.98L245.54 146.33M244.14 146.29L244.19 143.68M246.94 146.38L247.03 144.37M250.73 157.83L251.31 151.95M249.33 151.78L249.48 149.8M253.28 152.17L253.86 147.39M252.47 147.24L252.8 144.17M255.24 147.57L255.71 144.04M259.32 165.23L261.32 156.02M258.08 155.37L259.4 148.02M258.03 147.78L258.73 143.51M260.77 148.27L261.62 143.9M264.53 156.78L265.15 154.38M262.41 153.72L263.1 150.65M267.86 155.12L268.65 152.41M265.69 151.6L266.3 149.21M271.58 153.31L271.98 152.09M270 151.47L270.56 149.6M269.21 149.2L270.17 145.84M271.91 150.01L273.27 145.75M273.95 152.75L274.93 149.94M308.28 212.16L310.54 211.09M275.77 175.72L277.76 171.69M273.51 169.74L275.67 164.63M273.96 163.93L278.04 153.68M276.75 153.17L277.41 151.43M279.33 154.2L279.65 153.43M277.36 165.37L278.44 162.99M281.9 173.89L285.86 166.93M281.81 164.76L285.43 157.54M284.19 156.93L285.77 153.67M286.67 158.17L288.06 155.5M289.79 169.31L291.84 166.12M288.74 164.22L289.53 162.87M287.78 161.87L288.25 161.01M291.26 163.91L293.89 159.62M292.68 158.89L293.12 158.16M295.1 160.38L296.69 157.87M294.86 168.14L297.7 164.08M296.55 163.29L298.8 159.96M298.83 164.88L301.22 161.57M315.86 260.4L318.3 260.96M304.25 196.01L314.95 187.83M310.44 182.39L312.8 180.28M308.11 175.4L308.65 174.84M303.08 169.86L303.47 169.39M300.63 167.13L302.01 165.31M306.22 171.75L306.52 171.42M304.15 169.38L304.52 168.94M303.44 168.06L304.9 166.26M305.58 169.85L307.56 167.55M308.82 173.54L309.26 173.08M307.72 171.65L308.23 171.09M310.76 174.54L311.03 174.28M310.02 173.29L311.58 171.68M312.01 175.27L313.17 174.15M313.81 180.24L314.22 179.88M312.83 178.34L315.02 176.32M315.58 181.45L315.86 181.21M314.96 180.15L315.45 179.73M316.75 182.27L319.98 179.63M317.14 185.48L319.55 183.62M319.02 193.6L321.23 192.16M319.14 189.08L319.79 188.62M318.99 187.51L319.53 187.11M320.57 189.74L322.72 188.27M323.2 195.33L324.33 194.65M323.26 192.89L323.9 192.5M323.15 191.33L324.67 190.35M324.62 193.68L325.8 192.97M325.37 196.44L329.22 194.26M277.18 313.16L278.97 316.74M320.98 266.51L327.84 268.52M327.19 216.16L330.07 215.24M324.72 202.14L326.42 201.29M325.5 199.48L327.16 198.6M327.32 203.12L328.42 202.59M327.83 201.35L331.45 199.57M329 203.84L330.74 203.04M333.34 229L336.14 228.56M329.83 206.47L331.46 205.78M336.95 251.52L338.22 251.63M336.84 225.22L337.26 225.14M334.64 214.72L334.98 214.62M333.5 210.23L333.91 210.08M333.17 208.1L336.73 206.72M334.61 212.06L335.1 211.9M334.63 210.57L337.77 209.45M335.54 213.24L338.9 212.15M336.24 219.07L336.74 218.94M335.94 216.06L336.64 215.86M337.44 221.85L337.7 221.79M336.95 218.7L339.9 217.94M338.35 224.89L338.72 224.82M338.3 222.74L338.93 222.6M338.63 221.21L341.12 220.64M339.22 224L340.07 223.83M339.1 226.91L342.5 226.33M338.7 235.8L338.96 235.77M338.58 231.95L339.01 231.9M338.74 229.81L339.38 229.72M339.24 233.99L339.85 233.93M339.7 232.53L342.98 232.16M339.97 235.34L342.58 235.13M339.18 239.61L339.91 239.58M339.85 238.17L340.52 238.14M339.96 240.99L344.33 240.88M332.36 277.41L332.84 277.59M338.29 255.7L338.73 255.75M339.44 247.3L339.72 247.31M339.78 245.21L340.28 245.22M340.3 243.8L343.73 243.82M340.24 246.63L341.32 246.66M339.61 249.42L343.87 249.68M337.28 264.11L337.53 264.17M339.37 252.22L341.63 252.42M334.23 275.8L334.48 275.89M338.29 261.82L338.7 261.9M339.58 256.49L340.04 256.55M340.22 255.14L343.81 255.58M339.84 257.96L340.54 258.07M337.52 267.25L337.81 267.32M338.53 264.21L338.97 264.31M339.4 262.22L339.92 262.32M340.19 260.91L344.28 261.64M339.64 263.72L341.81 264.18M338.5 266.39L340.62 266.9M336.98 270.41L337.56 270.57M337.94 269.2L338.8 269.43M337.16 271.94L339.79 272.73M328.63 289.24L328.92 289.39M331.66 283.8L332.07 283.99M334.91 277.01L335.19 277.11M336.07 274.59L338.76 275.48M334.25 279.6L334.61 279.75M335.5 277.41L336.4 277.74M333.66 282.06L334.05 282.23M334.87 280.23L338.38 281.63M333.19 284.2L333.65 284.41M334.24 283.09L337.52 284.51M333.05 285.72L335.33 286.78M328.71 290.73L328.94 290.86M329.95 288.98L330.26 289.15M330.91 287.87L334.16 289.5M329.6 290.41L332.08 291.75M327.9 292.73L330.2 294.05M325.83 294.79L327.2 295.64M322.46 297.63L322.73 297.82M323.51 296.65L325.35 297.86M321.94 298.97L323.05 299.75M298.98 312.22L300.99 314.66M310.54 305.57L311.83 306.74M316.41 301.31L317.73 302.34M319.2 300.42L320.51 301.39M316.22 304.22L316.73 304.64M318.04 303.02L320 304.56M315.39 306.23L315.83 306.61M316.74 305.55L319.96 308.24M314.91 307.67L317.11 309.6M306.84 311.82L307.57 312.58M309.29 310.91L309.93 311.56M311.39 310.09L311.93 310.61M312.89 309.6L314.4 311.02M310.95 311.6L311.85 312.49M308.44 313.01L309.19 313.79M305.8 314.21L308.34 317.04M290.24 322.29L291.28 324M299.24 318.58L300.09 319.7M302.53 317.79L302.89 318.23M304.49 316.9L306.9 319.75M301.26 319.52L301.47 319.79M302.57 318.93L304.41 321.25M300.36 320.64L302.96 324.09M297.59 321.53L299.27 323.92M282.8 328.58L283.19 329.4M288.75 326.53L289.3 327.51M293.62 324.94L293.87 325.34M295.92 324.01L296.27 324.54M291.79 326.61L292.01 326.98M293.81 325.89L295.9 329.25M290.2 328.04L290.48 328.55M291.7 327.84L293.02 330.08M289.25 329.23L290.3 331.15M284.84 329.85L285.02 330.22M286.27 329.59L287.29 331.59M283.77 330.82L284.32 331.98M277.45 331.9L277.82 332.83M279.75 332.04L279.92 332.46M281.2 331.91L282.33 334.48M278.63 332.99L279.15 334.27M275.88 333.58L276.88 336.25M213.58 320.21L212.71 322.55M259.63 326.1L261.34 334.3M270.92 331.76L271.46 333.43M272.76 333L273.7 335.79M270.16 333.84L270.43 334.7M251.55 335.81L251.79 338.2M266.39 335.58L266.65 336.59M267.99 336.23L268.3 337.34M265.31 336.93L266.01 339.78M236.96 338.53L236.9 339.54M261.24 337.81L261.31 338.14M262.67 337.85L263.2 340.33M259.94 338.4L260.62 342.04M212.91 335.1L212.8 335.47M241.19 340.07L241.19 340.47M255.88 339.52L255.93 339.85M257.32 339.64L257.87 343.19M254.54 340.03L254.8 342.14M226.52 339.19L226.47 339.5M250.35 340.46L250.38 340.85M251.78 340.72L251.85 341.38M248.98 340.95L249.26 345.09M203.55 332.75L203.42 333.04M217.85 338L217.77 338.3M237.44 341.3L237.42 341.66M244.06 341.77L244.07 342.32M246.21 342.26L246.33 345.23M241.93 342.34L241.93 342.97M243.37 342.97L243.4 346.25M240.5 342.96L240.43 346.9M230.8 341.11L230.74 341.65M236.24 342.14L236.21 342.57M237.64 342.65L237.48 346.07M234.78 342.47L234.57 345.26M225.27 340.85L225.19 341.29M228.38 341.8L228.31 342.29M230.45 342.57L230.38 343.14M231.82 343.3L231.58 345.55M228.94 342.96L228.64 345.25M226.17 341.96L225.6 345.49M222.03 340.69L221.96 341.05M223.36 341.33L223.16 342.41M220.55 340.74L220.04 343.01M199.12 331.4L198.88 331.89M206.14 335.1L205.97 335.55M213.8 338.26L213.71 338.57M216.46 339.35L216.27 340.07M217.67 340.43L216.64 344.48M214.88 339.68L213.72 343.75M210.98 337.7L210.75 338.38M212.13 338.83L211.62 340.42M209.39 337.92L208.55 340.33M198.39 332.19L198.24 332.48M201.31 333.94L201.09 334.42M203.4 335.43L203.28 335.72M205.28 336.54L205.01 337.23M206.36 337.76L205.52 339.97M203.66 336.69L202.09 340.47M201.29 334.85L200.45 336.72M198.81 333.35L198.41 334.18M195.22 330.92L194.96 331.4M196.23 332.08L195.4 333.68M193.69 330.71L191.64 334.4M191.9 328.11L191.49 328.78M189.94 325.89L188.52 328.12M187.01 322.71L186.62 323.26M187.78 324.06L185.9 326.84M185.48 322.45L184.8 323.4M174.97 294.45L172.97 295.96M185.97 309.7L184.03 311.99M186.66 314.14L183.93 317.61M185.01 318.45L184.64 318.93M182.87 316.77L182.04 317.8M181.48 309.74L178.66 312.81M180.94 314.83L179.24 316.82M176.45 310.71L175.21 311.97M176.71 313.41L175.79 314.38M176.82 315.33L174.78 317.58M174.78 313.41L173.07 315.19M173.74 310.51L173.09 311.15M163.25 279.74L161.44 280.57M172.63 298.78L166.3 303.81M171 309.28L168.97 311.15M162.03 298L160.03 299.36M167.3 308.79L165.36 310.49M153.93 289.13L152.26 289.99M156.14 296.82L155.68 297.1M159.77 303.2L159.38 303.48M161.83 306.71L161.57 306.92M162.96 308.65L159.62 311.4M160.22 305.16L159.68 305.56M160.59 306.74L158.91 308.05M158.8 304.36L157.77 305.11M157.07 300.15L156.79 300.33M157.62 301.56L156.68 302.2M155.98 299.09L155.25 299.56M152.04 290.73L151.59 290.96M153.55 294.52L153.15 294.75M154.28 296.66L153.39 297.2M152.06 292.81L151.47 293.14M152.19 294.44L149.52 295.95M150.76 291.82L149.24 292.63M149.78 287.33L149.48 287.47M150.13 288.81L148.69 289.51M148.86 286.13L147.01 286.98M148.93 282.89L145.6 284.3M154.9 260.23L151.95 260.79M156.56 276.78L154.22 277.69M150.3 244.24L147.01 244.27M148.05 257.45L143.03 258.2M144.24 264.78L142.19 265.22M144.07 272.55L143.64 272.68M145.36 277.96L141.16 279.46M142.2 267.31L141.85 267.39M142.98 271.71L142.6 271.82M143.24 273.96L142.77 274.11M143.23 275.54L141.53 276.09M142.34 272.67L141.13 273.03M142.01 269.65L139.19 270.39M140.91 263.03L140.59 263.09M141.04 265.28L140.44 265.41M140.77 266.88L137.36 267.66M140.13 263.94L136.59 264.65M140.19 260.89L138.68 261.14M140.85 257.78L138.24 258.15M142.26 251.56L140.48 251.7M140.79 254.81L139.61 254.95M140.28 248.58L139.69 248.61M139.91 251.93L135.77 252.28M139.58 245.28L139.09 245.29M139.16 247.52L138.64 247.54M138.71 249.03L137.25 249.11M138.59 246.05L137.91 246.06M139.07 243.06L135.15 243.05M147.81 231.07L145.46 230.76M144.78 238.16L141.92 238M141.83 240.17L138.18 240.06M142.06 235.83L140.2 235.69M140.1 237.17L137.85 237.03M140.32 234.22L138.13 234.03M146.7 223.43L144.24 222.92M143.32 227.98L142.18 227.8M141.87 229.97L139.42 229.64M139.23 231.12L137.86 230.96M139.63 228.16L137.27 227.81M142.55 225.64L140.53 225.28M145.42 217.92L144.41 217.65M143.51 221.37L141.33 220.89M141.02 222.34L138.09 221.73M141.67 219.43L139.64 218.95M145.45 213.97L144.2 213.59M143.29 216.78L141.86 216.4M145.22 210.42L144.65 210.23M143.95 212.35L143.44 212.19M143.01 213.61L141.64 213.2M143.9 210.77L140.34 209.58M145.39 208.13L141.29 206.64M233.94 237.91A10 10 0 0 1 235.15 236.4M217.96 225.86A30 30 0 0 1 224.25 219.44M202.55 215.61A48.5 48.5 0 0 1 203.37 214.48M196.76 204.33A60 60 0 0 1 217.31 188.85M191.45 203.3A64.76 64.76 0 0 1 194.94 199.23M190.89 198.48A68.27 68.27 0 0 1 193.91 195.25M186.89 197.06A72.23 72.23 0 0 1 188.94 194.71M186.23 193.7A74.93 74.93 0 0 1 187.69 192.1M197.94 193.86A66.5 66.5 0 0 1 233.77 177.45M187.24 185.36A80 80 0 0 1 190.66 182.3M187.32 181.99A82.43 82.43 0 0 1 190.92 178.95M187.54 178.58A84.86 84.86 0 0 1 191.3 175.58M187.92 175.13A87.29 87.29 0 0 1 191.81 172.2M188.45 171.64A89.71 89.71 0 0 1 192.4 168.84M189.14 168.14A92.14 92.14 0 0 1 193 165.56M189.99 164.62A94.57 94.57 0 0 1 193.44 162.43M190.99 161.08A97 97 0 0 1 193.39 159.64M211.45 182.8A68 68 0 0 1 256.71 176.94M208.52 181.52A70.5 70.5 0 0 1 212.13 179.68M209.43 178.84A72.44 72.44 0 0 1 213.2 177.06M210.47 176.16A74.39 74.39 0 0 1 214.38 174.45M211.64 173.49A76.33 76.33 0 0 1 215.69 171.86M212.94 170.84A78.28 78.28 0 0 1 217.1 169.29M214.37 168.2A80.22 80.22 0 0 1 218.61 166.76M215.92 165.58A82.17 82.17 0 0 1 220.16 164.27M217.6 163A84.11 84.11 0 0 1 221.69 161.85M219.41 160.44A86.06 86.06 0 0 1 223.02 159.53M221.35 157.93A88 88 0 0 1 223.82 157.36M231.32 174.27A70 70 0 0 1 280.93 185.03M228.12 166.7A78 78 0 0 1 232.01 166.08M228.88 156.93A87.5 87.5 0 0 1 232.63 156.44M230.19 147.16A97 97 0 0 1 232.97 146.85M245.28 170.46A73 73 0 0 1 308.28 212.16M238.27 167.51A76 76 0 0 1 252.5 168.09M236.03 150.61A93 93 0 0 1 238.7 150.47M246.69 163.52A80 80 0 0 1 259.32 165.23M243.31 157.42A85.99 85.99 0 0 1 250.73 157.83M241.41 152.94A90.47 90.47 0 0 1 245.32 152.98M244.14 146.29A97.13 97.13 0 0 1 246.94 146.38M249.33 151.78A91.89 91.89 0 0 1 253.28 152.17M252.47 147.24A96.7 96.7 0 0 1 255.24 147.57M258.08 155.37A89.43 89.43 0 0 1 264.53 156.78M258.03 147.78A96.9 96.9 0 0 1 260.77 148.27M262.41 153.72A91.91 91.91 0 0 1 267.86 155.12M265.69 151.6A94.73 94.73 0 0 1 271.58 153.31M270 151.47A96.01 96.01 0 0 1 273.95 152.75M269.21 149.2A97.97 97.97 0 0 1 271.91 150.01M275.77 175.72A75.5 75.5 0 0 1 315.86 260.4M273.51 169.74A80 80 0 0 1 281.9 173.89M273.96 163.93A85.54 85.54 0 0 1 277.36 165.37M276.75 153.17A96.58 96.58 0 0 1 279.33 154.2M281.81 164.76A88 88 0 0 1 289.79 169.31M284.19 156.93A96.08 96.08 0 0 1 286.67 158.17M288.74 164.22A91.79 91.79 0 0 1 294.86 168.14M287.78 161.87A93.36 93.36 0 0 1 291.26 163.91M292.68 158.89A98.39 98.39 0 0 1 295.1 160.38M296.55 163.29A96.75 96.75 0 0 1 298.83 164.88M304.25 196.01A78 78 0 0 1 277.18 313.16M310.44 182.39A91.46 91.46 0 0 1 319.02 193.6M308.11 175.4A94.63 94.63 0 0 1 317.14 185.48M303.08 169.86A95.41 95.41 0 0 1 313.81 180.24M300.63 167.13A96.02 96.02 0 0 1 306.22 171.75M304.15 169.38A96.46 96.46 0 0 1 308.82 173.54M303.44 168.06A97.03 97.03 0 0 1 305.58 169.85M307.72 171.65A97.1 97.1 0 0 1 310.76 174.54M310.02 173.29A97.47 97.47 0 0 1 312.01 175.27M312.83 178.34A95.96 95.96 0 0 1 315.58 181.45M314.96 180.15A96.33 96.33 0 0 1 316.75 182.27M319.14 189.08A94.1 94.1 0 0 1 323.2 195.33M318.99 187.51A94.9 94.9 0 0 1 320.57 189.74M323.26 192.89A95.42 95.42 0 0 1 325.37 196.44M323.15 191.33A96.17 96.17 0 0 1 324.62 193.68M320.98 266.51A82 82 0 0 1 213.58 320.21M327.19 216.16A89.16 89.16 0 0 1 298.98 312.22M324.72 202.14A92.17 92.17 0 0 1 333.34 229M325.5 199.48A94.08 94.08 0 0 1 327.32 203.12M327.83 201.35A95.3 95.3 0 0 1 329 203.84M329.83 206.47A95 95 0 0 1 336.95 251.52M336.84 225.22A96.27 96.27 0 0 1 332.36 277.41M334.64 214.72A96.7 96.7 0 0 1 338.7 235.8M333.5 210.23A97.04 97.04 0 0 1 336.24 219.07M333.17 208.1A97.49 97.49 0 0 1 334.61 212.06M334.63 210.57A98 98 0 0 1 335.54 213.24M335.94 216.06A97.55 97.55 0 0 1 337.44 221.85M336.95 218.7A97.82 97.82 0 0 1 338.35 224.89M338.3 222.74A98.2 98.2 0 0 1 339.1 226.91M338.63 221.21A98.85 98.85 0 0 1 339.22 224M338.58 231.95A96.96 96.96 0 0 1 339.18 239.61M338.74 229.81A97.39 97.39 0 0 1 339.24 233.99M339.7 232.53A98.01 98.01 0 0 1 339.97 235.34M339.85 238.17A97.69 97.69 0 0 1 339.96 240.99M338.29 255.7A96.78 96.78 0 0 1 322.46 297.63M339.44 247.3A97.21 97.21 0 0 1 337.28 264.11M339.78 245.21A97.5 97.5 0 0 1 339.61 249.42M340.3 243.8A98 98 0 0 1 340.24 246.63M339.37 252.22A97.47 97.47 0 0 1 334.23 275.8M338.29 261.82A97.74 97.74 0 0 1 328.63 289.24M339.58 256.49A98.16 98.16 0 0 1 337.52 267.25M340.22 255.14A98.62 98.62 0 0 1 339.84 257.96M338.53 264.21A98.46 98.46 0 0 1 336.98 270.41M339.4 262.22A98.91 98.91 0 0 1 338.5 266.39M340.19 260.91A99.44 99.44 0 0 1 339.64 263.72M337.94 269.2A99.06 99.06 0 0 1 337.16 271.94M331.66 283.8A98.07 98.07 0 0 1 325.83 294.79M334.91 277.01A98.52 98.52 0 0 1 328.71 290.73M336.07 274.59A98.82 98.82 0 0 1 334.25 279.6M335.5 277.41A99.21 99.21 0 0 1 333.66 282.06M334.87 280.23A99.63 99.63 0 0 1 333.19 284.2M334.24 283.09A100.14 100.14 0 0 1 333.05 285.72M329.95 288.98A98.79 98.79 0 0 1 327.9 292.73M330.91 287.87A99.15 99.15 0 0 1 329.6 290.41M323.51 296.65A97.11 97.11 0 0 1 321.94 298.97M310.54 305.57A92.31 92.31 0 0 1 290.24 322.29M316.41 301.31A94.05 94.05 0 0 1 306.84 311.82M319.2 300.42A95.73 95.73 0 0 1 316.22 304.22M318.04 303.02A96.39 96.39 0 0 1 315.39 306.23M316.74 305.55A96.97 96.97 0 0 1 314.91 307.67M309.29 310.91A95.11 95.11 0 0 1 305.8 314.21M311.39 310.09A96.02 96.02 0 0 1 308.44 313.01M312.89 309.6A96.77 96.77 0 0 1 310.95 311.6M299.24 318.58A94.32 94.32 0 0 1 282.8 328.58M302.53 317.79A95.71 95.71 0 0 1 297.59 321.53M304.49 316.9A96.28 96.28 0 0 1 301.26 319.52M302.57 318.93A96.63 96.63 0 0 1 300.36 320.64M288.75 326.53A95.22 95.22 0 0 1 277.45 331.9M293.62 324.94A96.35 96.35 0 0 1 284.84 329.85M295.92 324.01A96.82 96.82 0 0 1 291.79 326.61M293.81 325.89A97.25 97.25 0 0 1 290.2 328.04M291.7 327.84A97.83 97.83 0 0 1 289.25 329.23M286.27 329.59A96.76 96.76 0 0 1 283.77 330.82M279.75 332.04A96.23 96.23 0 0 1 275.88 333.58M281.2 331.91A96.68 96.68 0 0 1 278.63 332.99M259.63 326.1A84.5 84.5 0 0 1 174.97 294.45M270.92 331.76A92.88 92.88 0 0 1 251.55 335.81M272.76 333A94.64 94.64 0 0 1 270.16 333.84M266.39 335.58A95.28 95.28 0 0 1 236.96 338.53M267.99 336.23A96.32 96.32 0 0 1 265.31 336.93M261.24 337.81A96.29 96.29 0 0 1 212.91 335.1M262.67 337.85A96.62 96.62 0 0 1 259.94 338.4M241.19 340.07A96.68 96.68 0 0 1 187.01 322.71M255.88 339.52A97.08 97.08 0 0 1 226.52 339.19M257.32 339.64A97.41 97.41 0 0 1 254.54 340.03M250.35 340.46A97.39 97.39 0 0 1 203.55 332.75M251.78 340.72A97.78 97.78 0 0 1 248.98 340.95M217.85 338A97.71 97.71 0 0 1 189.94 325.89M237.44 341.3A98.02 98.02 0 0 1 199.12 331.4M244.06 341.77A98.39 98.39 0 0 1 230.8 341.11M246.21 342.26A98.94 98.94 0 0 1 241.93 342.34M243.37 342.97A99.57 99.57 0 0 1 240.5 342.96M236.24 342.14A98.93 98.93 0 0 1 225.27 340.85M237.64 342.65A99.36 99.36 0 0 1 234.78 342.47M228.38 341.8A99.38 99.38 0 0 1 222.03 340.69M230.45 342.57A99.87 99.87 0 0 1 226.17 341.96M231.82 343.3A100.45 100.45 0 0 1 228.94 342.96M223.36 341.33A99.74 99.74 0 0 1 220.55 340.74M206.14 335.1A98.57 98.57 0 0 1 191.9 328.11M213.8 338.26A99.05 99.05 0 0 1 198.39 332.19M216.46 339.35A99.37 99.37 0 0 1 210.98 337.7M217.67 340.43A100.11 100.11 0 0 1 214.88 339.68M212.13 338.83A100.08 100.08 0 0 1 209.39 337.92M201.31 333.94A99.38 99.38 0 0 1 195.22 330.92M203.4 335.43A99.91 99.91 0 0 1 198.81 333.35M205.28 336.54A100.23 100.23 0 0 1 201.29 334.85M206.36 337.76A100.97 100.97 0 0 1 203.66 336.69M196.23 332.08A99.93 99.93 0 0 1 193.69 330.71M187.78 324.06A97.35 97.35 0 0 1 185.48 322.45M185.97 309.7A87 87 0 0 1 163.25 279.74M186.66 314.14A90 90 0 0 1 181.48 309.74M185.01 318.45A94.42 94.42 0 0 1 182.87 316.77M180.94 314.83A94.16 94.16 0 0 1 176.45 310.71M176.71 313.41A95.93 95.93 0 0 1 173.74 310.51M176.82 315.33A97.27 97.27 0 0 1 174.78 313.41M172.63 298.78A89 89 0 0 1 154.9 260.23M171 309.28A97.08 97.08 0 0 1 162.03 298M167.3 308.79A99.5 99.5 0 0 1 153.93 289.13M156.14 296.82A101.38 101.38 0 0 1 148.93 282.89M159.77 303.2A101.92 101.92 0 0 1 152.04 290.73M161.83 306.71A102.39 102.39 0 0 1 157.07 300.15M162.96 308.65A102.72 102.72 0 0 1 160.22 305.16M160.59 306.74A103.39 103.39 0 0 1 158.8 304.36M157.62 301.56A102.73 102.73 0 0 1 155.98 299.09M153.55 294.52A102.42 102.42 0 0 1 149.78 287.33M154.28 296.66A102.88 102.88 0 0 1 152.06 292.81M152.19 294.44A103.56 103.56 0 0 1 150.76 291.82M150.13 288.81A102.75 102.75 0 0 1 148.86 286.13M156.56 276.78A92.01 92.01 0 0 1 150.3 244.24M148.05 257.45A95.29 95.29 0 0 1 147.81 231.07M144.24 264.78A100.37 100.37 0 0 1 142.26 251.56M144.07 272.55A102.47 102.47 0 0 1 140.85 257.78M145.36 277.96A102.91 102.91 0 0 1 142.2 267.31M142.98 271.71A103.27 103.27 0 0 1 140.91 263.03M143.24 273.96A103.67 103.67 0 0 1 142.01 269.65M143.23 275.54A104.16 104.16 0 0 1 142.34 272.67M141.04 265.28A103.6 103.6 0 0 1 140.19 260.89M140.77 266.88A104.21 104.21 0 0 1 140.13 263.94M140.79 254.81A102.15 102.15 0 0 1 140.28 248.58M139.91 251.93A102.74 102.74 0 0 1 139.58 245.28M139.16 247.52A103.23 103.23 0 0 1 139.07 243.06M138.71 249.03A103.74 103.74 0 0 1 138.59 246.05M144.78 238.16A97.67 97.67 0 0 1 146.7 223.43M141.83 240.17A100.52 100.52 0 0 1 142.06 235.83M140.1 237.17A102.39 102.39 0 0 1 140.32 234.22M143.32 227.98A100.17 100.17 0 0 1 145.42 217.92M141.87 229.97A101.32 101.32 0 0 1 142.55 225.64M139.23 231.12A103.79 103.79 0 0 1 139.63 228.16M143.51 221.37A101.22 101.22 0 0 1 145.45 213.97M141.02 222.34A103.45 103.45 0 0 1 141.67 219.43M143.29 216.78A102.53 102.53 0 0 1 145.22 210.42M143.95 212.35A103.13 103.13 0 0 1 145.39 208.13M143.01 213.61A103.67 103.67 0 0 1 143.9 210.77" fill="none" stroke="#8c8c8c" stroke-width=".45"/>
<g fill="#a0a0a0" fill-opacity=".64" stroke="#888" stroke-opacity=".6" stroke-width=".4">
<circle cx="228.01" cy="229.41" r="3.3"/>
<circle cx="210.46" cy="220.45" r="2"/>
<circle cx="215.22" cy="207.46" r="2.4"/>
<circle cx="194.96" cy="202.78" r="1.64"/>
<circle cx="193.66" cy="198.04" r="3.13"/>
<circle cx="189.4" cy="197.18" r="2.78"/>
<circle cx="187.95" cy="193.8" r="3.16"/>
<circle cx="215.96" cy="185.9" r="1.5"/>
<circle cx="193.43" cy="188.83" r="2.05"/>
<circle cx="189.88" cy="181.37" r="1.37"/>
<circle cx="190.16" cy="178" r="1.38"/>
<circle cx="190.57" cy="174.6" r="1.67"/>
<circle cx="191.11" cy="171.21" r="1.39"/>
<circle cx="191.73" cy="167.83" r="1.68"/>
<circle cx="192.35" cy="164.53" r="1.97"/>
<circle cx="192.81" cy="161.39" r="1.63"/>
<circle cx="233.67" cy="176.71" r="1.2"/>
<circle cx="210.88" cy="181.69" r="2.77"/>
<circle cx="211.72" cy="178.8" r="2.91"/>
<circle cx="212.81" cy="176.17" r="2.3"/>
<circle cx="214.02" cy="173.55" r="1.53"/>
<circle cx="215.35" cy="170.94" r="1.47"/>
<circle cx="216.79" cy="168.37" r="2.43"/>
<circle cx="218.32" cy="165.83" r="1.97"/>
<circle cx="219.9" cy="163.34" r="1.5"/>
<circle cx="221.45" cy="160.91" r="2.53"/>
<circle cx="222.8" cy="158.59" r="2.3"/>
<circle cx="256.92" cy="175.97" r="1.2"/>
<circle cx="230.69" cy="170.32" r="3.21"/>
<circle cx="231.38" cy="161.37" r="3.04"/>
<circle cx="232.11" cy="151.71" r="3.16"/>
<circle cx="281.76" cy="183.78" r="1.54"/>
<circle cx="245.34" cy="168.96" r="3.4"/>
<circle cx="237.82" cy="159.02" r="3.08"/>
<circle cx="252.77" cy="166.11" r="3.49"/>
<circle cx="246.86" cy="160.53" r="3.49"/>
<circle cx="243.34" cy="155.18" r="2.77"/>
<circle cx="245.43" cy="149.66" r="1.38"/>
<circle cx="244.16" cy="144.98" r="2.73"/>
<circle cx="251.02" cy="154.89" r="3.09"/>
<circle cx="253.57" cy="149.78" r="3.34"/>
<circle cx="260.32" cy="160.62" r="3.3"/>
<circle cx="258.74" cy="151.7" r="2.88"/>
<circle cx="264.84" cy="155.58" r="2.06"/>
<circle cx="268.26" cy="153.76" r="2.72"/>
<circle cx="271.78" cy="152.7" r="1.15"/>
<circle cx="270.28" cy="150.53" r="3.22"/>
<circle cx="309.41" cy="211.62" r="1.47"/>
<circle cx="276.77" cy="173.71" r="2.8"/>
<circle cx="274.59" cy="167.19" r="2.82"/>
<circle cx="276" cy="158.81" r="3.35"/>
<circle cx="283.88" cy="170.41" r="2.87"/>
<circle cx="283.62" cy="161.15" r="3.12"/>
<circle cx="290.81" cy="167.71" r="3.24"/>
<circle cx="289.13" cy="163.54" r="2.9"/>
<circle cx="292.58" cy="161.77" r="3.35"/>
<circle cx="296.28" cy="166.11" r="3.01"/>
<circle cx="317.08" cy="260.68" r="1.08"/>
<circle cx="309.6" cy="191.92" r="3"/>
<circle cx="311.62" cy="181.34" r="3.24"/>
<circle cx="308.38" cy="175.12" r="3.45"/>
<circle cx="303.27" cy="169.62" r="3.45"/>
<circle cx="301.32" cy="166.22" r="2.81"/>
<circle cx="306.37" cy="171.59" r="3.04"/>
<circle cx="304.33" cy="169.16" r="2.16"/>
<circle cx="304.17" cy="167.16" r="3.04"/>
<circle cx="306.57" cy="168.7" r="3.02"/>
<circle cx="309.04" cy="173.31" r="2.75"/>
<circle cx="307.98" cy="171.37" r="3.04"/>
<circle cx="310.89" cy="174.41" r="3.26"/>
<circle cx="314.02" cy="180.06" r="1.32"/>
<circle cx="315.72" cy="181.33" r="3.45"/>
<circle cx="315.2" cy="179.94" r="3.36"/>
<circle cx="320.12" cy="192.88" r="2.74"/>
<circle cx="319.46" cy="188.85" r="3.22"/>
<circle cx="323.76" cy="194.99" r="3.4"/>
<circle cx="323.58" cy="192.7" r="3.49"/>
<circle cx="278.08" cy="314.95" r="1.5"/>
<circle cx="324.41" cy="267.52" r="2.24"/>
<circle cx="328.63" cy="215.7" r="2.71"/>
<circle cx="325.57" cy="201.71" r="1.05"/>
<circle cx="326.33" cy="199.04" r="3.17"/>
<circle cx="327.87" cy="202.85" r="2.9"/>
<circle cx="329.87" cy="203.44" r="3.15"/>
<circle cx="334.74" cy="228.78" r="2.99"/>
<circle cx="337.59" cy="251.58" r="3.26"/>
<circle cx="337.05" cy="225.18" r="3.12"/>
<circle cx="334.81" cy="214.67" r="3.21"/>
<circle cx="333.71" cy="210.15" r="2.04"/>
<circle cx="334.85" cy="211.98" r="3.25"/>
<circle cx="336.2" cy="210.01" r="3.48"/>
<circle cx="336.49" cy="219.01" r="3.31"/>
<circle cx="337.57" cy="221.82" r="3.08"/>
<circle cx="338.54" cy="224.85" r="1.69"/>
<circle cx="338.62" cy="222.67" r="2.91"/>
<circle cx="339.87" cy="220.92" r="3.25"/>
<circle cx="340.8" cy="226.62" r="3.38"/>
<circle cx="338.83" cy="235.79" r="3.17"/>
<circle cx="338.79" cy="231.93" r="3.48"/>
<circle cx="339.06" cy="229.77" r="3.03"/>
<circle cx="339.54" cy="233.96" r="3.41"/>
<circle cx="339.55" cy="239.6" r="3.46"/>
<circle cx="340.18" cy="238.16" r="2.99"/>
<circle cx="342.15" cy="240.93" r="3.1"/>
<circle cx="332.6" cy="277.5" r="3"/>
<circle cx="338.51" cy="255.73" r="3.14"/>
<circle cx="339.58" cy="247.31" r="2.9"/>
<circle cx="340.03" cy="245.21" r="3.02"/>
<circle cx="340.78" cy="246.64" r="3.34"/>
<circle cx="341.74" cy="249.55" r="3.05"/>
<circle cx="337.41" cy="264.14" r="1.29"/>
<circle cx="340.5" cy="252.32" r="3.06"/>
<circle cx="334.36" cy="275.85" r="2.95"/>
<circle cx="338.49" cy="261.86" r="3.14"/>
<circle cx="339.81" cy="256.52" r="1.79"/>
<circle cx="337.66" cy="267.29" r="2.9"/>
<circle cx="338.75" cy="264.26" r="2.8"/>
<circle cx="339.66" cy="262.27" r="3.22"/>
<circle cx="340.73" cy="263.95" r="2.89"/>
<circle cx="339.56" cy="266.65" r="3.13"/>
<circle cx="337.27" cy="270.49" r="1.58"/>
<circle cx="328.77" cy="289.31" r="3.5"/>
<circle cx="331.87" cy="283.9" r="1.21"/>
<circle cx="335.05" cy="277.06" r="3.48"/>
<circle cx="337.42" cy="275.03" r="3.25"/>
<circle cx="334.43" cy="279.68" r="1.26"/>
<circle cx="333.86" cy="282.14" r="3.06"/>
<circle cx="333.42" cy="284.3" r="1.74"/>
<circle cx="335.88" cy="283.8" r="2.87"/>
<circle cx="334.19" cy="286.25" r="2.77"/>
<circle cx="328.82" cy="290.8" r="2.94"/>
<circle cx="330.11" cy="289.06" r="1.9"/>
<circle cx="322.59" cy="297.72" r="2.88"/>
<circle cx="299.98" cy="313.44" r="3.08"/>
<circle cx="311.18" cy="306.16" r="1.21"/>
<circle cx="317.07" cy="301.82" r="2.76"/>
<circle cx="316.48" cy="304.43" r="2.95"/>
<circle cx="315.61" cy="306.42" r="3.06"/>
<circle cx="307.2" cy="312.2" r="3"/>
<circle cx="309.61" cy="311.24" r="3.36"/>
<circle cx="311.66" cy="310.35" r="3.46"/>
<circle cx="311.4" cy="312.05" r="3.2"/>
<circle cx="290.76" cy="323.15" r="3.49"/>
<circle cx="299.67" cy="319.14" r="3.36"/>
<circle cx="302.71" cy="318.01" r="3.28"/>
<circle cx="305.7" cy="318.33" r="2.76"/>
<circle cx="301.36" cy="319.66" r="3.44"/>
<circle cx="303.49" cy="320.09" r="3.3"/>
<circle cx="282.99" cy="328.99" r="3.35"/>
<circle cx="289.02" cy="327.02" r="3.32"/>
<circle cx="293.75" cy="325.14" r="3.2"/>
<circle cx="296.1" cy="324.27" r="3.34"/>
<circle cx="291.9" cy="326.8" r="2.78"/>
<circle cx="290.34" cy="328.29" r="2.83"/>
<circle cx="289.78" cy="330.19" r="2.87"/>
<circle cx="284.93" cy="330.03" r="1.28"/>
<circle cx="286.78" cy="330.59" r="2.89"/>
<circle cx="284.04" cy="331.4" r="3.18"/>
<circle cx="277.64" cy="332.36" r="1.71"/>
<circle cx="279.83" cy="332.25" r="3.41"/>
<circle cx="278.89" cy="333.63" r="3.11"/>
<circle cx="276.38" cy="334.92" r="2.71"/>
<circle cx="213.15" cy="321.38" r="1.38"/>
<circle cx="260.49" cy="330.2" r="3.09"/>
<circle cx="271.19" cy="332.59" r="3.32"/>
<circle cx="251.67" cy="337.01" r="3.18"/>
<circle cx="266.52" cy="336.08" r="2.96"/>
<circle cx="265.66" cy="338.35" r="2.61"/>
<circle cx="236.93" cy="339.03" r="1.85"/>
<circle cx="261.27" cy="337.97" r="3.22"/>
<circle cx="262.94" cy="339.09" r="3.13"/>
<circle cx="212.85" cy="335.28" r="3.36"/>
<circle cx="241.19" cy="340.27" r="2.71"/>
<circle cx="255.9" cy="339.69" r="2.83"/>
<circle cx="226.5" cy="339.34" r="3.36"/>
<circle cx="250.36" cy="340.65" r="3.1"/>
<circle cx="251.82" cy="341.05" r="2.69"/>
<circle cx="203.48" cy="332.89" r="2.81"/>
<circle cx="217.81" cy="338.15" r="2.94"/>
<circle cx="237.43" cy="341.48" r="3"/>
<circle cx="244.07" cy="342.05" r="2.73"/>
<circle cx="246.27" cy="343.75" r="2.74"/>
<circle cx="241.93" cy="342.65" r="3.08"/>
<circle cx="243.38" cy="344.61" r="2.6"/>
<circle cx="230.77" cy="341.38" r="2.74"/>
<circle cx="236.22" cy="342.36" r="1.09"/>
<circle cx="237.56" cy="344.36" r="3.47"/>
<circle cx="234.68" cy="343.86" r="3.38"/>
<circle cx="225.23" cy="341.07" r="3.32"/>
<circle cx="228.34" cy="342.04" r="3.08"/>
<circle cx="230.41" cy="342.85" r="2.89"/>
<circle cx="231.7" cy="344.43" r="2.62"/>
<circle cx="225.88" cy="343.73" r="3.26"/>
<circle cx="221.99" cy="340.87" r="2.77"/>
<circle cx="223.26" cy="341.87" r="2.65"/>
<circle cx="199" cy="331.64" r="2.74"/>
<circle cx="206.05" cy="335.32" r="2.99"/>
<circle cx="213.75" cy="338.42" r="2.73"/>
<circle cx="216.37" cy="339.71" r="1.15"/>
<circle cx="210.87" cy="338.04" r="3.1"/>
<circle cx="208.97" cy="339.13" r="3.17"/>
<circle cx="198.31" cy="332.33" r="3.2"/>
<circle cx="201.2" cy="334.18" r="1.37"/>
<circle cx="203.34" cy="335.57" r="2.96"/>
<circle cx="205.15" cy="336.89" r="2.08"/>
<circle cx="198.61" cy="333.77" r="3.47"/>
<circle cx="195.09" cy="331.16" r="2.88"/>
<circle cx="192.67" cy="332.56" r="2.61"/>
<circle cx="186.82" cy="322.99" r="2.45"/>
<circle cx="186.84" cy="325.45" r="2.88"/>
<circle cx="173.97" cy="295.21" r="1.01"/>
<circle cx="185" cy="310.85" r="2.38"/>
<circle cx="185.3" cy="315.88" r="3.19"/>
<circle cx="184.83" cy="318.69" r="3.37"/>
<circle cx="180.07" cy="311.27" r="2.8"/>
<circle cx="180.09" cy="315.83" r="2.93"/>
<circle cx="175.83" cy="311.34" r="1.32"/>
<circle cx="176.25" cy="313.89" r="3.43"/>
<circle cx="173.92" cy="314.3" r="3.21"/>
<circle cx="173.42" cy="310.83" r="3.32"/>
<circle cx="162.34" cy="280.16" r="1.01"/>
<circle cx="169.47" cy="301.29" r="1.17"/>
<circle cx="169.98" cy="310.22" r="3.18"/>
<circle cx="161.03" cy="298.68" r="1.05"/>
<circle cx="153.1" cy="289.56" r="2.87"/>
<circle cx="155.91" cy="296.96" r="3.05"/>
<circle cx="159.58" cy="303.34" r="1.75"/>
<circle cx="161.7" cy="306.82" r="2.02"/>
<circle cx="161.29" cy="310.02" r="2.95"/>
<circle cx="159.95" cy="305.36" r="2.83"/>
<circle cx="156.93" cy="300.24" r="1.22"/>
<circle cx="151.82" cy="290.85" r="2.72"/>
<circle cx="153.35" cy="294.63" r="3.04"/>
<circle cx="153.83" cy="296.93" r="2.65"/>
<circle cx="151.76" cy="292.97" r="1.23"/>
<circle cx="149.63" cy="287.4" r="3.38"/>
<circle cx="147.93" cy="286.56" r="3.15"/>
<circle cx="153.43" cy="260.51" r="2.85"/>
<circle cx="148.65" cy="244.25" r="2.9"/>
<circle cx="145.54" cy="257.82" r="2.88"/>
<circle cx="143.21" cy="265" r="3.48"/>
<circle cx="143.85" cy="272.61" r="2.96"/>
<circle cx="142.03" cy="267.35" r="2.82"/>
<circle cx="142.79" cy="271.76" r="3.17"/>
<circle cx="143" cy="274.03" r="1.1"/>
<circle cx="142.38" cy="275.81" r="2.99"/>
<circle cx="140.6" cy="270.02" r="3.22"/>
<circle cx="140.75" cy="263.06" r="3.37"/>
<circle cx="140.74" cy="265.35" r="3.41"/>
<circle cx="139.54" cy="257.96" r="2.6"/>
<circle cx="141.37" cy="251.63" r="1.93"/>
<circle cx="140.2" cy="254.88" r="2.98"/>
<circle cx="139.98" cy="248.6" r="3.22"/>
<circle cx="139.33" cy="245.29" r="3.38"/>
<circle cx="138.9" cy="247.53" r="2.89"/>
<circle cx="137.11" cy="243.05" r="3.35"/>
<circle cx="146.63" cy="230.91" r="1.33"/>
<circle cx="143.35" cy="238.08" r="1.52"/>
<circle cx="141.13" cy="235.76" r="3.22"/>
<circle cx="145.47" cy="223.18" r="1.47"/>
<circle cx="142.75" cy="227.89" r="3.49"/>
<circle cx="140.65" cy="229.8" r="3.33"/>
<circle cx="138.55" cy="231.04" r="3.37"/>
<circle cx="144.92" cy="217.78" r="2.8"/>
<circle cx="142.42" cy="221.13" r="1.91"/>
<circle cx="140.65" cy="219.19" r="2.68"/>
<circle cx="144.83" cy="213.78" r="2.94"/>
<circle cx="144.93" cy="210.33" r="2.21"/>
<circle cx="143.7" cy="212.27" r="2.88"/>
<circle cx="142.12" cy="210.17" r="3.28"/>
</g>
<g font-size="13.6" fill="#000">
<rect x="533.7" y="71.25" width="17.7" height="17.7" fill="#eeeeee" stroke="#8a8a8a" stroke-width="1"/>
<text x="560.8" y="84.05" stroke="#000" stroke-width=".12">Outgroups</text>
<rect x="533.7" y="98.42" width="17.7" height="17.7" fill="#bdbdbd" stroke="#8a8a8a" stroke-width="1"/>
<text x="560.8" y="111.22" stroke="#000" stroke-width=".12">Edge</text>
<rect x="533.7" y="125.59" width="17.7" height="17.7" fill="#fbe3ee" stroke="#8a8a8a" stroke-width="1"/>
<text x="560.8" y="138.39" stroke="#000" stroke-width=".12">Pacisporaceae</text>
<rect x="533.7" y="152.76" width="17.7" height="17.7" fill="#f8de95" stroke="#8a8a8a" stroke-width="1"/>
<text x="560.8" y="165.56" stroke="#000" stroke-width=".12">Entrophosporaceae</text>
<rect x="533.7" y="179.93" width="17.7" height="17.7" fill="#f5cccb" stroke="#8a8a8a" stroke-width="1"/>
<text x="560.8" y="192.73" stroke="#000" stroke-width=".12">Acaulosporaceae</text>
<rect x="533.7" y="207.1" width="17.7" height="17.7" fill="#c8e68e" stroke="#8a8a8a" stroke-width="1"/>
<text x="560.8" y="219.9" stroke="#000" stroke-width=".12">Paraglomeraceae</text>
<rect x="533.7" y="234.27" width="17.7" height="17.7" fill="#dfb1cf" stroke="#8a8a8a" stroke-width="1"/>
<text x="560.8" y="247.07" stroke="#000" stroke-width=".12">Sacculosporaceae</text>
<rect x="533.7" y="261.44" width="17.7" height="17.7" fill="#9fcbd8" stroke="#8a8a8a" stroke-width="1"/>
<text x="560.8" y="274.24" stroke="#000" stroke-width=".12">Ambisporaceae</text>
<rect x="533.7" y="288.61" width="17.7" height="17.7" fill="#f6cc9e" stroke="#8a8a8a" stroke-width="1"/>
<text x="560.8" y="301.41" stroke="#000" stroke-width=".12">Glomeraceae</text>
<rect x="533.7" y="315.78" width="17.7" height="17.7" fill="#b1a5d5" stroke="#8a8a8a" stroke-width="1"/>
<text x="560.8" y="328.58" stroke="#000" stroke-width=".12">Diversisporaceae</text>
<rect x="533.7" y="342.95" width="17.7" height="17.7" fill="#a2c398" stroke="#8a8a8a" stroke-width="1"/>
<text x="560.8" y="355.75" stroke="#000" stroke-width=".12">Pervestustaceae</text>
<rect x="533.7" y="370.12" width="17.7" height="17.7" fill="#93b1d3" stroke="#8a8a8a" stroke-width="1"/>
<text x="560.8" y="382.92" stroke="#000" stroke-width=".12">Archeosporaceae</text>
<rect x="533.7" y="397.29" width="17.7" height="17.7" fill="#f2b1b1" stroke="#8a8a8a" stroke-width="1"/>
<text x="560.8" y="410.09" stroke="#000" stroke-width=".12">Gigasporaceae</text>
</g>
</svg>
</body></html>
